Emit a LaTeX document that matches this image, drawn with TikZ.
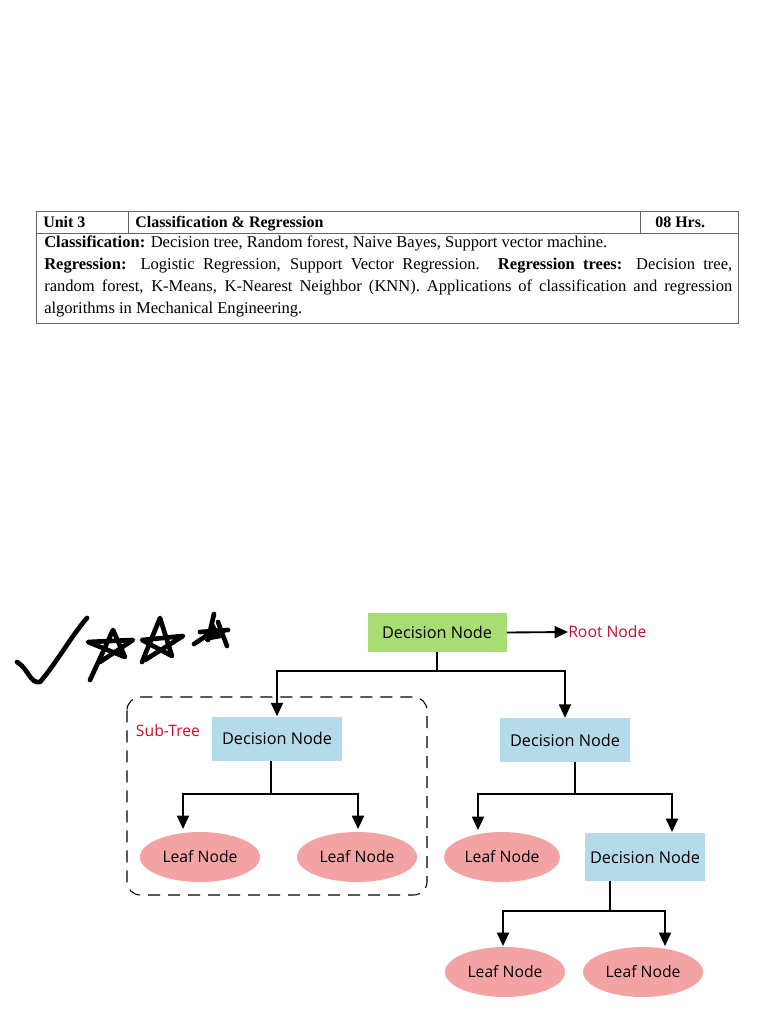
\documentclass[tikz,border=0pt]{standalone}
\usepackage{fontspec}
\setmainfont{Liberation Serif}
\newfontfamily\dsans{Open Sans}
\usetikzlibrary{arrows.meta,shapes.geometric}
\definecolor{rootg}{HTML}{A8DD73}
\definecolor{decb}{HTML}{B5DAEA}
\definecolor{leafp}{HTML}{F4A3A5}
\definecolor{redt}{HTML}{C8102E}
\begin{document}
\begin{tikzpicture}[x=0.75pt,y=-0.75pt,
 box/.style={fill=#1,minimum width=130*0.75pt,minimum height=44*0.75pt,font=\dsans\fontsize{12.2}{14}\selectfont,inner sep=0pt},
 leaf/.style={ellipse,fill=leafp,minimum width=120*0.75pt,minimum height=50*0.75pt,font=\dsans\fontsize{11.8}{14}\selectfont,inner sep=0pt},
 arr/.style={line width=1.4pt,-{Triangle[length=10pt,width=9pt]}},
 con/.style={line width=1.4pt},
 ink/.style={line width=3.5pt,line cap=round,line join=round},
 tb/.style={anchor=base west,inner sep=0pt,font=\fontsize{12}{14}\selectfont\bfseries}]
\useasboundingbox (0,0) rectangle (768,1024);
% table
\draw[gray!80!black,line width=0.6pt] (36,211) rectangle (738,323) (36,233)--(738,233) (128,211)--(128,233) (640,211)--(640,233);
\node[tb] (u) at (43,227) {Unit 3};
\node[tb] (t) at (135,227) {Classification \& Regression};
\node[tb] (h) at (655,227) {08 Hrs.};
\node[anchor=north west,text width=688*0.75pt,align=justify,inner sep=0pt,font=\fontsize{12.4}{16.5}\selectfont] (body) at (44,236) {\textbf{Classification:} Decision tree, Random forest, Naive Bayes, Support vector machine.\\ \textbf{Regression:} Logistic Regression, Support Vector Regression. \textbf{Regression trees:} Decision tree,\linebreak random forest, K-Means, K-Nearest Neighbor (KNN). Applications of classification and regression\linebreak algorithms in Mechanical Engineering.};
% handwriting
\draw[ink] (17,662) .. controls (28,668) and (30,684) .. (40,682) .. controls (55,665) and (72,635) .. (87,618);
\draw[ink] (90,680) -- (113,630) -- (125,657) -- (88,642) -- (133,640) -- (100,662);
\draw[ink] (142,662) -- (160,618) -- (172,656) -- (142,640) -- (183,636) -- (145,660);
\draw[ink] (194,644) -- (212,632) (218,622) -- (227,646) (200,632) -- (228,630) (214,614) -- (208,640);
\fill (212,620) -- (222,638) -- (205,641) -- cycle;
% diagram
\node[box=rootg,minimum width=139*0.75pt,minimum height=39*0.75pt] (root) at (437,632.5) {Decision Node};
\node[font=\dsans\fontsize{11.8}{14}\selectfont,text=redt,anchor=west,inner sep=0pt] (rl) at (568,632) {Root Node};
\draw[arr] (root.east) -- (rl.west);
\node[box=decb] (d1) at (277,738.5) {Decision Node};
\node[box=decb] (d2) at (565,740) {Decision Node};
\coordinate (j0) at (437,671);
\draw[con] (root.south) -- (j0);
\draw[arr] (j0) -| (d1.north);
\draw[arr] (j0) -| (d2.north);
\draw[thick,dashed,dash pattern=on 9pt off 6pt,rounded corners=10pt] (127,697) rectangle (427,895);
\node[font=\dsans\fontsize{11.8}{14}\selectfont,text=redt] (st) at (168,731) {Sub-Tree};
\node[leaf] (l1) at (200,857) {Leaf Node};
\node[leaf] (l2) at (357,857) {Leaf Node};
\coordinate (j1) at (271,794);
\draw[con] (d1.south -| j1) -- (j1);
\draw[arr] (j1) -| (183,829);
\draw[arr] (j1) -| (358,829);
\node[leaf,minimum width=116*0.75pt] (l3) at (502,857) {Leaf Node};
\node[box=decb,minimum width=120*0.75pt,minimum height=48*0.75pt] (d3) at (645,857) {Decision Node};
\coordinate (j2) at (575,794);
\draw[con] (d2.south -| j2) -- (j2);
\draw[arr] (j2) -| (478,830);
\draw[arr] (j2) -| (672,832);
\node[leaf] (l4) at (505,972) {Leaf Node};
\node[leaf] (l5) at (643,972) {Leaf Node};
\coordinate (j3) at (610,911);
\draw[con] (d3.south -| j3) -- (j3);
\draw[arr] (j3) -| (503,946);
\draw[arr] (j3) -| (665,946);
\end{tikzpicture}
\end{document}
